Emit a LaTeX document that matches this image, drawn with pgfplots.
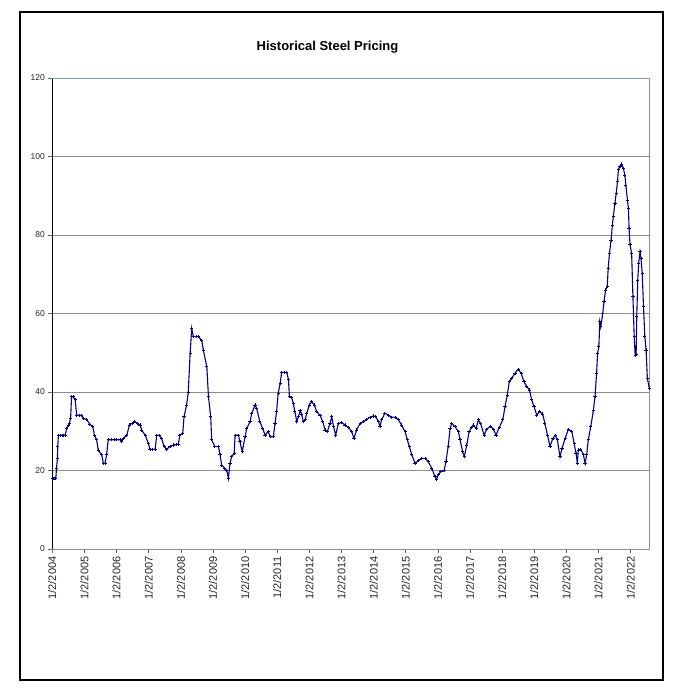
\documentclass[border=0pt]{standalone}
\usepackage{pgfplots}
\pgfplotsset{compat=1.18}
\usepackage{fontspec}
\setmainfont{Liberation Sans}
\definecolor{steelline}{RGB}{0,0,128}
\definecolor{gridgray}{RGB}{140,140,140}
\definecolor{frametop}{RGB}{120,150,180}

\begin{document}
\begin{tikzpicture}
% page area and outer chart frame
\path (0pt,0pt) rectangle (676pt,699pt);
\draw[line width=1.1pt] (20pt,19pt) rectangle (663pt,687pt);
\node[font=\bfseries\fontsize{13}{15}\selectfont] at (327.5pt,652pt) {Historical Steel Pricing};

\begin{axis}[
  at={(52.3pt,150pt)}, anchor=south west,
  width=597pt, height=471pt, scale only axis,
  xmin=2004, xmax=2022.58,
  ymin=0, ymax=120,
  ytick={0,20,40,60,80,100,120},
  xtick={2004,2005,2006,2007,2008,2009,2010,2011,2012,2013,2014,2015,2016,2017,2018,2019,2020,2021,2022},
  xticklabels={1/2/2004,1/2/2005,1/2/2006,1/2/2007,1/2/2008,1/2/2009,1/2/2010,1/2/2011,1/2/2012,1/2/2013,1/2/2014,1/2/2015,1/2/2016,1/2/2017,1/2/2018,1/2/2019,1/2/2020,1/2/2021,1/2/2022},
  xtick pos=bottom, ytick pos=left,
  tick align=outside, major tick length=4pt,
  tick style={gray!80!black, line width=0.6pt},
  ymajorgrids, major grid style={gridgray, line width=0.7pt},
  axis line style={gridgray, line width=0.8pt},
  /pgf/number format/assume math mode=true,
  yticklabel style={font=\fontsize{8.5}{10}\selectfont, text=black!85},
  xticklabel style={font=\fontsize{11}{13}\selectfont, rotate=90, anchor=east, text=black!85},
  clip=false,
]
\draw[black, line width=0.9pt] (rel axis cs:0,0) -- (rel axis cs:0,1);
\draw[frametop, line width=0.8pt] (rel axis cs:0,1) -- (rel axis cs:1,1);
\addplot[steelline, line width=1.1pt, mark=+, mark size=1.6pt, mark options={line width=0.8pt}] coordinates {
(2004.01,18.0) (2004.03,18.0) (2004.07,18.0) (2004.11,18.0) (2004.13,20.5) (2004.16,23.1) (2004.17,26.1) (2004.19,29.0)
(2004.24,29.0) (2004.30,29.0) (2004.35,29.0) (2004.40,29.0) (2004.45,30.7) (2004.50,31.5) (2004.53,32.0) (2004.57,33.3)
(2004.60,38.8) (2004.65,38.8) (2004.71,38.0) (2004.76,34.1) (2004.83,34.1) (2004.91,34.1) (2004.97,33.3) (2005.07,32.9)
(2005.17,31.8) (2005.26,31.2) (2005.31,29.0) (2005.38,27.8) (2005.43,25.2) (2005.54,24.0) (2005.59,21.8) (2005.64,21.8)
(2005.69,24.0) (2005.74,27.8) (2005.83,27.8) (2005.92,27.8) (2006.01,27.8) (2006.11,27.8) (2006.16,27.3) (2006.21,28.2)
(2006.32,29.0) (2006.40,31.6) (2006.48,32.0) (2006.57,32.4) (2006.65,32.0) (2006.73,31.6) (2006.78,30.3) (2006.89,29.0)
(2006.99,26.9) (2007.04,25.4) (2007.12,25.4) (2007.20,25.4) (2007.25,29.0) (2007.33,29.0) (2007.40,28.2) (2007.48,26.1)
(2007.56,25.4) (2007.66,26.1) (2007.77,26.5) (2007.85,26.6) (2007.92,26.7) (2007.97,29.0) (2008.06,29.5) (2008.10,33.7)
(2008.18,36.7) (2008.23,39.8) (2008.29,49.9) (2008.34,56.2) (2008.39,54.1) (2008.47,54.1) (2008.54,54.1) (2008.65,53.2)
(2008.70,50.7) (2008.81,46.4) (2008.86,38.8) (2008.93,33.7) (2008.96,27.8) (2009.06,26.1) (2009.17,26.1) (2009.22,24.0)
(2009.27,21.4) (2009.37,20.6) (2009.43,20.1) (2009.48,18.0) (2009.53,21.8) (2009.58,23.5) (2009.66,24.4) (2009.69,29.0)
(2009.79,29.0) (2009.84,27.3) (2009.91,24.8) (2010.00,28.6) (2010.05,30.7) (2010.15,32.4) (2010.21,34.6) (2010.31,36.7)
(2010.36,35.8) (2010.46,32.4) (2010.55,30.7) (2010.62,29.0) (2010.72,29.9) (2010.78,28.6) (2010.88,28.6) (2010.93,32.0)
(2010.98,35.0) (2011.03,39.7) (2011.09,42.2) (2011.14,45.0) (2011.22,45.0) (2011.30,45.0) (2011.35,43.1) (2011.38,38.8)
(2011.45,38.6) (2011.50,37.1) (2011.55,35.0) (2011.61,32.4) (2011.66,33.7) (2011.71,35.2) (2011.76,34.4) (2011.81,32.4)
(2011.87,33.0) (2011.92,34.6) (2012.00,36.7) (2012.07,37.5) (2012.15,36.7) (2012.23,35.0) (2012.33,34.1) (2012.42,32.4)
(2012.49,30.3) (2012.56,29.9) (2012.64,32.0) (2012.70,33.7) (2012.75,31.3) (2012.82,29.0) (2012.90,32.0) (2013.01,32.2)
(2013.11,31.6) (2013.21,31.0) (2013.32,29.9) (2013.39,28.2) (2013.47,30.3) (2013.58,32.0) (2013.68,32.4) (2013.79,33.0)
(2013.89,33.6) (2013.99,33.9) (2014.07,33.7) (2014.15,32.4) (2014.20,31.3) (2014.25,32.9) (2014.35,34.6) (2014.46,34.1)
(2014.56,33.6) (2014.67,33.6) (2014.77,32.9) (2014.87,31.6) (2014.98,29.9) (2015.05,27.8) (2015.11,26.1) (2015.19,24.0)
(2015.29,21.8) (2015.39,22.5) (2015.50,23.1) (2015.60,23.1) (2015.70,22.2) (2015.81,20.6) (2015.91,18.4) (2015.96,17.8)
(2016.01,18.9) (2016.09,19.7) (2016.19,19.9) (2016.25,22.2) (2016.32,26.1) (2016.38,30.7) (2016.43,32.0) (2016.53,31.2)
(2016.64,29.9) (2016.69,27.8) (2016.77,24.8) (2016.82,23.5) (2016.90,26.5) (2016.97,29.9) (2017.05,31.0) (2017.10,31.6)
(2017.19,30.7) (2017.26,32.9) (2017.33,32.0) (2017.44,29.0) (2017.52,30.5) (2017.64,31.3) (2017.73,30.5) (2017.81,29.0)
(2017.91,31.0) (2018.02,32.9) (2018.09,36.3) (2018.16,39.2) (2018.22,42.6) (2018.30,43.5) (2018.40,44.8) (2018.50,45.8)
(2018.59,44.8) (2018.68,42.6) (2018.76,41.5) (2018.85,40.5) (2018.92,38.0) (2018.99,36.3) (2019.08,34.1) (2019.16,35.0)
(2019.26,34.4) (2019.33,32.0) (2019.41,29.0) (2019.49,26.2) (2019.58,28.2) (2019.65,29.0) (2019.72,27.8) (2019.80,23.5)
(2019.86,25.6) (2019.96,28.2) (2020.06,30.5) (2020.17,29.9) (2020.24,26.9) (2020.30,24.4) (2020.34,21.8) (2020.37,25.2)
(2020.45,25.4) (2020.53,24.0) (2020.58,21.8) (2020.63,24.0) (2020.68,27.8) (2020.76,31.2) (2020.84,35.4) (2020.89,38.8)
(2020.94,44.8) (2020.97,49.9) (2021.01,51.5) (2021.04,57.9) (2021.07,56.6) (2021.13,60.0) (2021.17,63.0) (2021.22,66.0)
(2021.27,66.8) (2021.30,71.5) (2021.34,75.3) (2021.39,78.7) (2021.43,82.5) (2021.46,84.7) (2021.51,88.1) (2021.55,90.6)
(2021.59,93.6) (2021.62,96.7) (2021.67,97.6) (2021.72,98.1) (2021.77,97.0) (2021.82,95.3) (2021.85,92.7) (2021.90,88.9)
(2021.93,86.8) (2021.95,81.7) (2021.98,77.5) (2022.03,75.3) (2022.07,64.3) (2022.11,54.1) (2022.14,49.4) (2022.17,49.5)
(2022.19,59.2) (2022.22,68.5) (2022.25,72.8) (2022.29,75.7) (2022.32,74.1) (2022.36,70.2) (2022.40,61.7) (2022.44,54.1)
(2022.48,50.7) (2022.52,43.5) (2022.58,40.9)
};
\end{axis}
\end{tikzpicture}
\end{document}
